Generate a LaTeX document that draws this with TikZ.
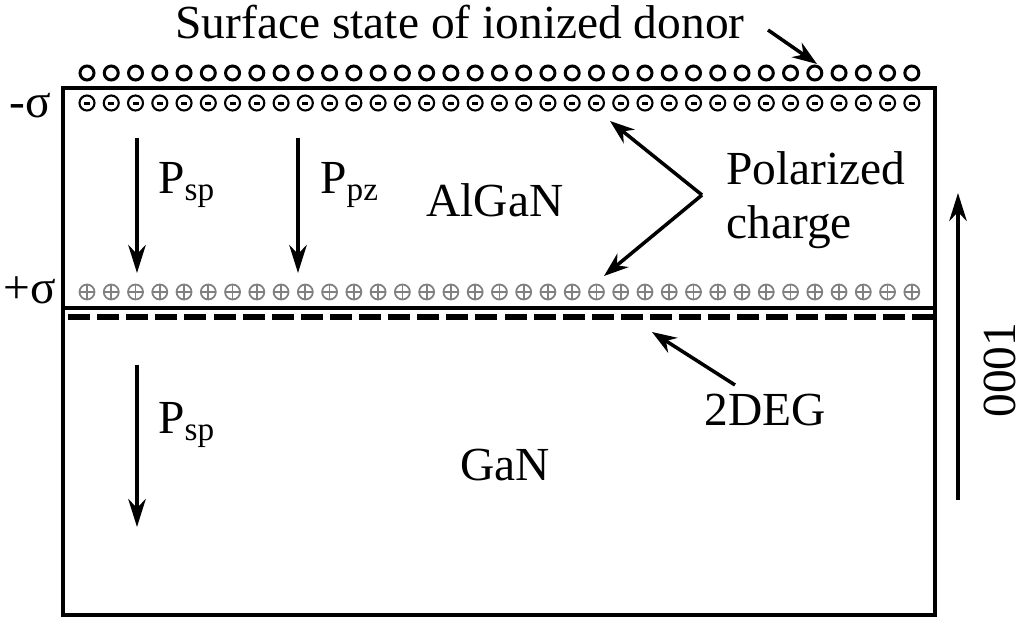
\documentclass[tikz,border=0pt]{standalone}
\usepackage{fontspec}
\setmainfont{Liberation Serif}
\usetikzlibrary{arrows.meta}
\begin{document}
\begin{tikzpicture}[x=0.02cm,y=-0.02cm,
  lbl/.style={font=\fontsize{27}{31}\selectfont,inner sep=0pt},
  arr/.style={-{Stealth[length=16pt,width=10pt]},line width=2pt},
  darr/.style={-{Stealth[length=14pt,width=10pt]},line width=2pt}]
\useasboundingbox (0,0) rectangle (1025,625);
\draw[line width=2.4pt] (63,88) rectangle (935,615);
\draw[line width=2.4pt] (63,308) -- (935,308);
\foreach \i in {0,...,34}{
  \pgfmathsetmacro\xx{87+\i*24.26}
  \draw[line width=1.7pt] (\xx,73) circle[radius=7];
  \draw[line width=1.2pt] (\xx,103) circle[radius=7.5];
  \fill (\xx-3,101.8) rectangle (\xx+3,104.6);
  \draw[gray,line width=1pt] (\xx,292) circle[radius=7.5];
  \draw[gray,line width=1pt] (\xx-7.5,292) -- (\xx+7.5,292) (\xx,284.5) -- (\xx,299.5);
}
\foreach \i in {0,...,29}{
  \fill (68+\i*29.1,314) rectangle (90+\i*29.1,320);
}
\node[lbl] (sm) at (30,106) {-σ};
\node[lbl] (sp) at (30,290) {+σ};
\coordinate (a1s) at (137,138); \coordinate (a1e) at (137,273);
\coordinate (a2s) at (298,138); \coordinate (a2e) at (298,273);
\coordinate (a3s) at (137,365); \coordinate (a3e) at (137,527);
\coordinate (a4s) at (958,500); \coordinate (a4e) at (958,193);
\draw[arr] (a1s) -- (a1e);
\draw[arr] (a2s) -- (a2e);
\draw[arr] (a3s) -- (a3e);
\draw[arr] (a4s) -- (a4e);
\node[lbl,anchor=west] (psp) at (158,185) {P\textsubscript{sp}};
\node[lbl,anchor=west] (ppz) at (320,185) {P\textsubscript{pz}};
\node[lbl,anchor=west] (psp2) at (158,425) {P\textsubscript{sp}};
\node[lbl] (algan) at (495,200) {AlGaN};
\node[lbl] (gan) at (505,465) {GaN};
\node[lbl,align=left,anchor=west] (pol) at (726,200) {Polarized\\charge};
\node[lbl] (deg) at (765,410) {2DEG};
\node[lbl,rotate=90] (dir) at (1000,370) {0001};
\node[lbl] (surf) at (460,22) {Surface state of ionized donor};
\coordinate (pv) at (702,195);
\coordinate (t1) at (610,121); \coordinate (t2) at (604,276);
\draw[darr] (pv) -- (t1);
\draw[darr] (pv) -- (t2);
\coordinate (d1) at (735,385); \coordinate (d2) at (652,332);
\draw[darr] (d1) -- (d2);
\coordinate (s1) at (768,30); \coordinate (s2) at (817,64);
\draw[darr] (s1) -- (s2);
\end{tikzpicture}
\end{document}
